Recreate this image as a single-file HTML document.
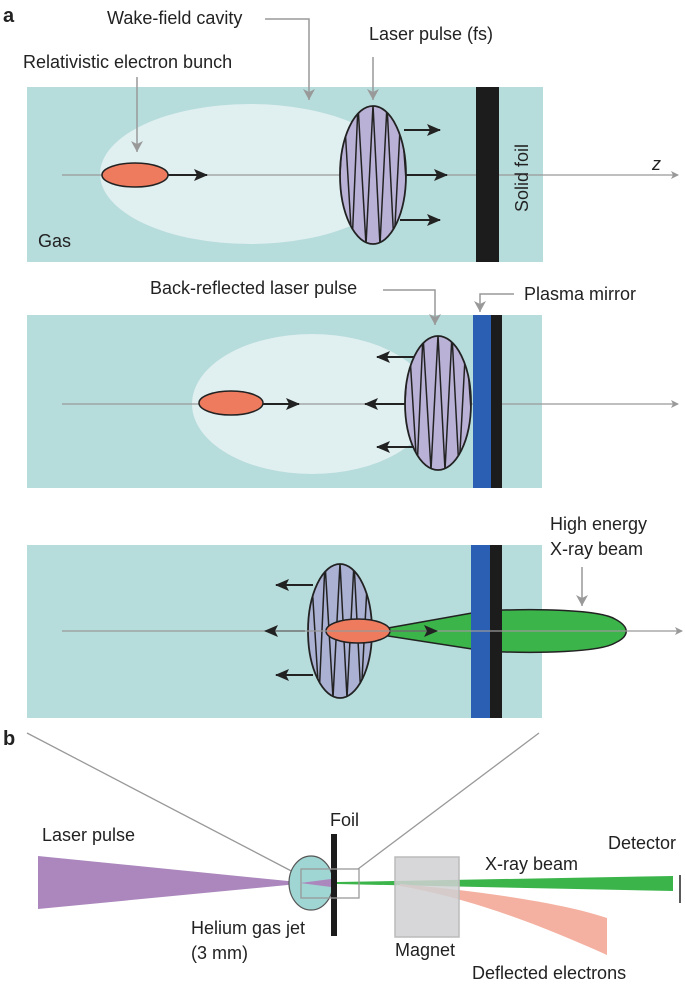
<!DOCTYPE html>
<html><head><meta charset="utf-8"><style>
html,body{margin:0;padding:0;background:#fff}
svg{display:block}
text{font-family:"Liberation Sans",sans-serif;font-size:18px;fill:#222}
</style></head><body>
<svg width="685" height="986" viewBox="0 0 685 986" xmlns="http://www.w3.org/2000/svg">
<defs>
<marker id="ga" markerWidth="8" markerHeight="8" refX="7" refY="4" orient="auto" markerUnits="userSpaceOnUse"><path d="M0,0 L8,4 L0,8 L2,4 z" fill="#999"/></marker>
<marker id="gd" markerWidth="12" markerHeight="12" refX="11" refY="6" orient="auto" markerUnits="userSpaceOnUse"><path d="M0,0 L11,6 L0,12 L3,6 z" fill="#999"/></marker>
<marker id="ba" markerWidth="14" markerHeight="12" refX="13" refY="6" orient="auto" markerUnits="userSpaceOnUse"><path d="M0,0 L14,6 L0,12 L3,6 z" fill="#222"/></marker>
<clipPath id="c1"><ellipse cx="373" cy="175" rx="33" ry="69"/></clipPath>
<clipPath id="c2"><ellipse cx="438" cy="403" rx="33" ry="67"/></clipPath>
<clipPath id="c3"><ellipse cx="340" cy="631" rx="32" ry="67"/></clipPath>
</defs>

<rect x="27" y="87" width="516" height="175" fill="#b7dcdc"/>
<ellipse cx="250" cy="174" rx="150" ry="70" fill="#e0eff0"/>
<line x1="62" y1="175" x2="678" y2="175" stroke="#999" stroke-width="1.2" marker-end="url(#ga)"/>
<ellipse cx="373" cy="175" rx="33" ry="69" fill="#b9b2d6"/>
<polyline clip-path="url(#c1)" points="340,175 344,110 352,245 358,105 366,245 373,105 380,245 387,105 394,245 401,110 406,180" fill="none" stroke="#222" stroke-width="1.5"/>
<ellipse cx="373" cy="175" rx="33" ry="69" fill="none" stroke="#222" stroke-width="1.8"/>
<ellipse cx="135" cy="175" rx="33" ry="12" fill="#ef7b5e" stroke="#222" stroke-width="1.5"/>
<line x1="168" y1="175" x2="207" y2="175" stroke="#222" stroke-width="2" marker-end="url(#ba)"/>
<line x1="404" y1="130" x2="440" y2="130" stroke="#222" stroke-width="2" marker-end="url(#ba)"/>
<line x1="406" y1="175" x2="447" y2="175" stroke="#222" stroke-width="2" marker-end="url(#ba)"/>
<line x1="400" y1="220" x2="440" y2="220" stroke="#222" stroke-width="2" marker-end="url(#ba)"/>
<rect x="476" y="87" width="23" height="175" fill="#1c1c1c"/>
<text x="38" y="247">Gas</text>
<text transform="translate(528,212) rotate(-90)">Solid foil</text>
<text x="652" y="170" style="font-style:italic">z</text>

<text x="3" y="22" style="font-weight:bold;font-size:20px">a</text>
<text x="107" y="24">Wake-field cavity</text>
<text x="369" y="40">Laser pulse (fs)</text>
<text x="23" y="68">Relativistic electron bunch</text>
<polyline points="265,19 309,19 309,100" fill="none" stroke="#999" stroke-width="1.5" marker-end="url(#gd)"/>
<line x1="373" y1="57" x2="373" y2="100" stroke="#999" stroke-width="1.5" marker-end="url(#gd)"/>
<line x1="137" y1="77" x2="137" y2="152" stroke="#999" stroke-width="1.5" marker-end="url(#gd)"/>

<rect x="27" y="315" width="515" height="173" fill="#b7dcdc"/>
<ellipse cx="312" cy="404" rx="120" ry="70" fill="#e0eff0"/>
<line x1="62" y1="404" x2="678" y2="404" stroke="#999" stroke-width="1.2" marker-end="url(#ga)"/>
<ellipse cx="438" cy="403" rx="33" ry="67" fill="#b9b2d6"/>
<polyline clip-path="url(#c2)" points="405,403 409,340 417,470 423,335 431,470 438,335 445,470 452,335 459,470 466,340 471,410" fill="none" stroke="#222" stroke-width="1.5"/>
<ellipse cx="438" cy="403" rx="33" ry="67" fill="none" stroke="#222" stroke-width="1.8"/>
<ellipse cx="231" cy="403" rx="32" ry="12" fill="#ef7b5e" stroke="#222" stroke-width="1.5"/>
<line x1="263" y1="404" x2="299" y2="404" stroke="#222" stroke-width="2" marker-end="url(#ba)"/>
<line x1="414" y1="357" x2="377" y2="357" stroke="#222" stroke-width="2" marker-end="url(#ba)"/>
<line x1="405" y1="404" x2="365" y2="404" stroke="#222" stroke-width="2" marker-end="url(#ba)"/>
<line x1="414" y1="447" x2="377" y2="447" stroke="#222" stroke-width="2" marker-end="url(#ba)"/>
<rect x="473" y="315" width="18" height="173" fill="#2b5fb3"/>
<rect x="491" y="315" width="11" height="173" fill="#1c1c1c"/>

<text x="150" y="294">Back-reflected laser pulse</text>
<polyline points="383,290 435,290 435,325" fill="none" stroke="#999" stroke-width="1.5" marker-end="url(#gd)"/>
<text x="524" y="300">Plasma mirror</text>
<polyline points="514,294 480,294 480,312" fill="none" stroke="#999" stroke-width="1.5" marker-end="url(#gd)"/>

<rect x="27" y="545" width="515" height="173" fill="#b7dcdc"/>
<path d="M388,628 L472,613 L480,611 C540,608 600,610 615,619 C630,627 630,636 615,643 C600,652 540,654 480,651 L472,649 L388,636 z" fill="#3bb54a" stroke="#222" stroke-width="1.5"/>
<ellipse cx="340" cy="631" rx="32" ry="67" fill="#aab1d2"/>
<polyline clip-path="url(#c3)" points="307,631 311,568 319,698 325,563 333,698 340,563 347,698 354,563 361,698 368,568 373,640" fill="none" stroke="#222" stroke-width="1.5"/>
<ellipse cx="340" cy="631" rx="32" ry="67" fill="none" stroke="#222" stroke-width="1.8"/>
<ellipse cx="358" cy="631" rx="32" ry="12" fill="#ef7b5e" stroke="#222" stroke-width="1.5"/>
<rect x="471" y="545" width="19" height="173" fill="#2b5fb3"/>
<rect x="490" y="545" width="12" height="173" fill="#1c1c1c"/>
<line x1="62" y1="631" x2="682" y2="631" stroke="#999" stroke-width="1.2" marker-end="url(#ga)"/>
<line x1="305" y1="631" x2="265" y2="631" stroke="#666" stroke-width="1.2" marker-end="url(#ba)"/>
<line x1="390" y1="631" x2="437" y2="631" stroke="#666" stroke-width="1.2" marker-end="url(#ba)"/>
<line x1="313" y1="585" x2="276" y2="585" stroke="#222" stroke-width="2" marker-end="url(#ba)"/>
<line x1="313" y1="675" x2="276" y2="675" stroke="#222" stroke-width="2" marker-end="url(#ba)"/>

<text x="550" y="530">High energy</text>
<text x="550" y="555">X-ray beam</text>
<line x1="582" y1="567" x2="582" y2="606" stroke="#999" stroke-width="1.5" marker-end="url(#gd)"/>

<text x="3" y="745" style="font-weight:bold;font-size:20px">b</text>
<line x1="27" y1="733" x2="299" y2="875" stroke="#999" stroke-width="1.3"/>
<line x1="539" y1="733" x2="358" y2="869" stroke="#999" stroke-width="1.3"/>
<polygon points="38,856 308,883 38,909" fill="#ab87bd"/>
<ellipse cx="311" cy="883" rx="22" ry="27" fill="#9fd6d3" stroke="#555" stroke-width="1.2"/>
<polygon points="300,883 331,879 331,887" fill="#ab87bd"/>
<path d="M337,882 L673,876 L673,891 L337,884 z" fill="#3bb54a"/>
<path d="M400,884 C470,890 560,902 607,918 L607,955 C540,925 470,898 400,886 z" fill="#f4b0a0"/>
<rect x="395" y="857" width="64" height="80" fill="#d0d0d2" fill-opacity="0.85" stroke="#bbb" stroke-width="1.5"/>
<rect x="331" y="834" width="6" height="102" fill="#1c1c1c"/>
<rect x="301" y="869" width="58" height="29" fill="none" stroke="#999" stroke-width="1.3"/>
<line x1="680" y1="875" x2="680" y2="903" stroke="#222" stroke-width="1.5"/>
<text x="42" y="841">Laser pulse</text>
<text x="330" y="826">Foil</text>
<text x="608" y="849">Detector</text>
<text x="485" y="870">X-ray beam</text>
<text x="191" y="934">Helium gas jet</text>
<text x="191" y="959">(3 mm)</text>
<text x="395" y="956">Magnet</text>
<text x="472" y="979">Deflected electrons</text>
</svg>
</body></html>
